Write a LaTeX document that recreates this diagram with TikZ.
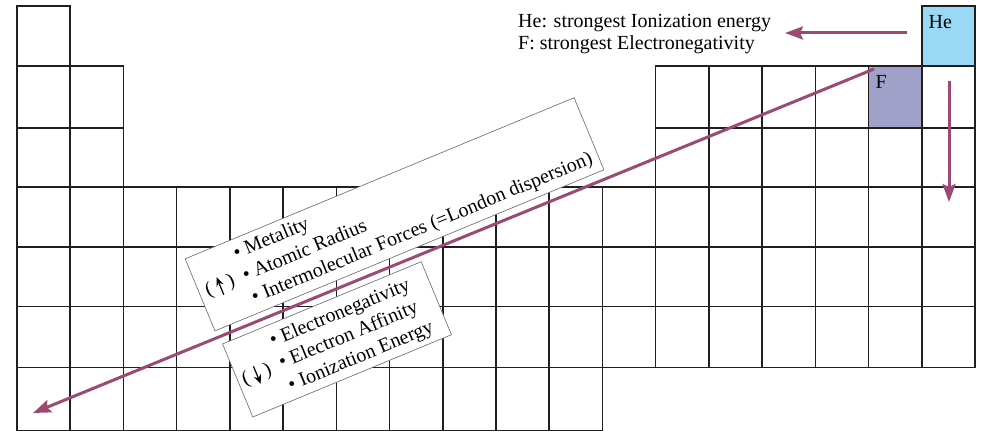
\documentclass[tikz,border=0pt]{standalone}
\usepackage{fontspec}
\setmainfont{Liberation Serif}
\usetikzlibrary{arrows.meta}
\definecolor{arrowc}{RGB}{155,74,115}
\definecolor{hefill}{RGB}{153,217,245}
\definecolor{ffill}{RGB}{160,160,200}
\begin{document}
\begin{tikzpicture}[x=1pt,y=-1pt,
  cellline/.style={line width=1.6pt, draw=black!88},
  trend/.style={line width=3pt, draw=arrowc, -{Stealth[length=18pt,width=13pt,inset=3pt]}},
  notebox/.style={draw=black!60, line width=0.6pt, fill=white, inner sep=0pt},
  notetext/.style={inner sep=0pt, align=left, font=\fontsize{20}{24}\selectfont},
  celltext/.style={inner sep=0pt, font=\fontsize{20}{22}\selectfont},
  minisign/.style={line width=1.2pt, -{Stealth[length=9pt,width=7.5pt]}}
]
\useasboundingbox (0,0) rectangle (986,436);
% coloured cells
\node[fill=hefill, inner sep=0pt, minimum width=53.22pt, minimum height=60pt] (He) at (948.4,36) {};
\node[fill=ffill, inner sep=0pt, minimum width=53.22pt, minimum height=62pt] (F) at (895.2,97) {};
% grid
\foreach \yt/\yb/\cols in {6/66/{0,17}, 66/128/{0,1,12,13,14,15,16,17}, 128/187/{0,1,12,13,14,15,16,17},
  187/247/{0,...,17}, 247/306.5/{0,...,17}, 306.5/367.5/{0,...,17}, 367.5/430.5/{0,...,10}}{
  \foreach \c in \cols {
    \draw[cellline] ({17+\c*53.22},\yt) rectangle ({17+(\c+1)*53.22},\yb);
  }
}
% labels
\node[celltext, anchor=base west] (hel) at (928.5,28.3) {He};
\node[celltext, anchor=base west] (fl) at (875.5,88.3) {F};
\node[celltext, anchor=base west] (info1) at (518,27.3) {He: strongest Ionization energy};
\node[celltext, anchor=base west] (info2) at (518,49.3) {F: strongest Electronegativity};
% trend arrows
\coordinate (hs) at (907,33);
\coordinate (he) at (785,33);
\draw[trend] (hs) -- (he);
\coordinate (vs) at (949,81);
\coordinate (ve) at (949,202);
\draw[trend] (vs) -- (ve);
% rotated notes
\begin{scope}[rotate=22.5, transform shape]
  \node[notebox, minimum width=421pt, minimum height=78pt] (box1) at (282.5,349) {};
  \node[notetext, anchor=west] (t1) at (119,349) {• Metality\\• Atomic Radius\\• Intermolecular Forces (=London dispersion)};
  \node[notetext] (p1) at (94,348.6) {(\hspace{17pt})};
  \coordinate (a1s) at (94,358);
  \coordinate (a1e) at (94,339);
  \draw[minisign] (a1s) -- (a1e);
  \node[notebox, minimum width=215pt, minimum height=79pt] (box2) at (181.5,442.5) {};
  \node[notetext, anchor=west] (t2) at (119,444) {• Electronegativity\\• Electron Affinity\\• Ionization Energy};
  \node[notetext] (p2) at (94,444.8) {(\hspace{17pt})};
  \coordinate (a2s) at (94,435.5);
  \coordinate (a2e) at (94,454.5);
  \draw[minisign] (a2s) -- (a2e);
\end{scope}
\coordinate (ds) at (874,69);
\coordinate (de) at (33,413);
\draw[trend] (ds) -- (de);
\end{tikzpicture}
\end{document}
